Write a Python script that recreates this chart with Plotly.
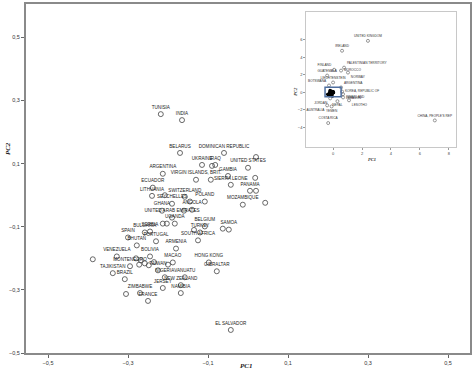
import plotly.graph_objects as go

# ---------------- main chart data (PC1 / PC2 scores) ----------------
NAMES = [
    "TUNISIA", "INDIA", "BELARUS", "DOMINICAN REPUBLIC", "", "UKRAINE", "IRAQ", "",
    "UNITED STATES", "ARGENTINA", "GAMBIA", "VIRGIN ISLANDS, BRIT.", "", "SIERRA LEONE", "",
    "ECUADOR", "LITHUANIA", "SWITZERLAND", "", "SEYCHELLES", "POLAND", "", "PANAMA", "",
    "MOZAMBIQUE", "", "GHANA", "ANGOLA", "", "UNITED ARAB EMIRATES", "UGANDA", "", "",
    "BELGIUM", "SAMOA", "", "SERBIA", "TURKEY", "", "SOUTH AFRICA", "SPAIN", "BULGARIA",
    "PORTUGAL", "ARMENIA", "BHUTAN", "VENEZUELA", "BOLIVIA", "", "MONTENEGRO",
    "", "", "", "", "", "", "MACAO", "", "HONG KONG", "GIBRALTAR", "TAJIKISTAN", "BRAZIL",
    "TAIWAN", "NIGERIA", "VANUATU", "NEW ZEALAND", "JERSEY", "ZIMBABWE", "NAMIBIA",
    "FRANCE", "", "EL SALVADOR",
]
PC1 = [
    -0.218, -0.165, -0.170, -0.060, 0.020, -0.115, -0.082, -0.090,
    0.000, -0.213, -0.050, -0.130, -0.093, -0.043, 0.018,
    -0.238, -0.240, -0.158, -0.208, -0.190, -0.108, -0.145, 0.005, 0.020,
    -0.013, 0.043, -0.215, -0.140, -0.160, -0.190, -0.183, -0.213, -0.203,
    -0.108, -0.048, -0.063, -0.245, -0.120, -0.135, -0.125, -0.300, -0.258,
    -0.230, -0.180, -0.278, -0.328, -0.245, -0.388, -0.295,
    -0.280, -0.268, -0.258, -0.272, -0.248, -0.235, -0.188, -0.200, -0.098, -0.078, -0.338, -0.308,
    -0.225, -0.208, -0.158, -0.168, -0.213, -0.270, -0.168,
    -0.250, -0.305, -0.043,
]
PC2 = [
    0.257, 0.238, 0.134, 0.134, 0.121, 0.096, 0.096, 0.093,
    0.087, 0.068, 0.061, 0.049, 0.049, 0.033, 0.055,
    0.024, -0.002, -0.005, 0.000, -0.027, -0.020, -0.020, 0.014, 0.014,
    -0.030, -0.024, -0.049, -0.046, -0.049, -0.071, -0.090, -0.090, -0.090,
    -0.099, -0.109, -0.106, -0.115, -0.118, -0.110, -0.143, -0.134, -0.118,
    -0.146, -0.169, -0.159, -0.194, -0.194, -0.203, -0.225,
    -0.200, -0.206, -0.216, -0.220, -0.222, -0.212, -0.213, -0.220, -0.213, -0.241, -0.247, -0.266,
    -0.238, -0.260, -0.260, -0.285, -0.294, -0.310, -0.310,
    -0.335, -0.313, -0.427,
]
TICKS = [-0.5, -0.3, -0.1, 0.1, 0.3, 0.5]
X_RANGE = [-0.555, 0.555]
Y_RANGE = [-0.5, 0.606]

# ---------------- inset (full data set) ----------------
INSET_NAMES = [
    "UNITED KINGDOM", "IRELAND", "FINLAND", "PALESTINIAN TERRITORY", "MOROCCO",
    "GUATEMALA", "NORWAY", "LIECHTENSTEIN", "BOTSWANA", "ARGENTINA",
    "KOREA, REPUBLIC OF", "LEBANON", "JORDAN", "SWAZILAND", "NEPAL", "LESOTHO",
    "AUSTRALIA", "YEMEN", "COSTA RICA", "CHINA, PEOPLE'S REP",
]
INSET_PC1 = [2.41, 0.62, 0.07, 0.76, 0.55, -0.41, 1.03, 0.00, -0.28, 0.55,
             0.62, 0.69, -0.20, 0.69, 0.30, 1.10, -0.41, -0.10, -0.34, 7.03]
INSET_PC2 = [5.90, 4.77, 2.60, 2.84, 2.50, 1.93, 2.27, 1.14, 0.80, 0.57,
             0.10, -0.20, -0.68, -0.57, -1.00, -0.90, -1.48, -1.60, -3.50, -3.20]
INSET_TEXTPOS = ["top center", "top center", "top left", "top right", "middle right",
                 "top center", "bottom right", "top center", "top left", "top right",
                 "middle right", "bottom right", "bottom left", "middle right", "bottom center",
                 "bottom right", "bottom left", "bottom center", "top center", "top center"]
INSET_XTICKS = [0, 2, 4, 6, 8]
INSET_YTICKS = [-4, -2, 0, 2, 4, 6]
INSET_XRANGE = [-1.86, 8.48]
INSET_YRANGE = [-6.25, 9.2]

LABEL_FONT = "Liberation Sans Narrow, Arial Narrow, Liberation Sans, Arial"

fig = go.Figure()

fig.add_trace(go.Scatter(
    x=PC1, y=PC2, text=NAMES, mode="markers+text", textposition="top center",
    textfont=dict(family=LABEL_FONT, size=4.6, color="#222"),
    marker=dict(symbol="circle-open", size=5, color="#444", line=dict(width=0.8)),
    cliponaxis=False, hoverinfo="skip", xaxis="x", yaxis="y",
))

# inset: the full cloud (main points become a black blob) + outliers
fig.add_trace(go.Scatter(
    x=PC1, y=PC2, mode="markers",
    marker=dict(symbol="circle", size=3, color="#000"),
    hoverinfo="skip", xaxis="x2", yaxis="y2",
))
fig.add_trace(go.Scatter(
    x=INSET_PC1, y=INSET_PC2, text=INSET_NAMES, mode="markers+text",
    textposition=INSET_TEXTPOS,
    textfont=dict(family=LABEL_FONT, size=3.2, color="#333"),
    marker=dict(symbol="circle-open", size=3, color="#555", line=dict(width=0.6)),
    cliponaxis=False, hoverinfo="skip", xaxis="x2", yaxis="y2",
))

fig.add_shape(type="rect", xref="x2", yref="y2",
              x0=X_RANGE[0], x1=X_RANGE[1], y0=Y_RANGE[0], y1=Y_RANGE[1],
              line=dict(color="#4f6f9f", width=1.5))

axis_common = dict(showgrid=False, zeroline=False, showline=True, mirror=True,
                   ticks="outside", tickformat=".1f")

fig.update_layout(
    width=474, height=370,
    margin=dict(l=26, r=4, t=2, b=17),
    paper_bgcolor="white", plot_bgcolor="white",
    separators=",.",
    showlegend=False,
    xaxis=dict(range=X_RANGE, tickvals=TICKS, domain=[0, 1], anchor="y",
               linecolor="#8a8a8a", linewidth=2, ticklen=3, tickcolor="#666",
               tickfont=dict(family="Liberation Sans, Arial", size=5.5, color="#333"),
               **axis_common),
    yaxis=dict(range=Y_RANGE, tickvals=TICKS, domain=[0, 1], anchor="x",
               linecolor="#8a8a8a", linewidth=2, ticklen=3, tickcolor="#666",
               tickfont=dict(family="Liberation Sans, Arial", size=5.5, color="#333"),
               **axis_common),
    xaxis2=dict(range=INSET_XRANGE, tickvals=INSET_XTICKS, domain=[0.631, 0.968], anchor="y2",
                showgrid=False, zeroline=False, showline=True, mirror=True,
                linecolor="#c8c8c8", linewidth=1, ticks="outside", ticklen=2,
                tickcolor="#999", tickfont=dict(family="Liberation Sans, Arial", size=4, color="#444")),
    yaxis2=dict(range=INSET_YRANGE, tickvals=INSET_YTICKS, domain=[0.590, 0.977], anchor="x2",
                showgrid=False, zeroline=False, showline=True, mirror=True,
                linecolor="#c8c8c8", linewidth=1, ticks="outside", ticklen=2,
                tickcolor="#999", tickfont=dict(family="Liberation Sans, Arial", size=4, color="#444")),
    annotations=[
        dict(text="<b><i>PC1</i></b>", x=0.495, y=-0.036, xref="paper", yref="paper",
             showarrow=False, xanchor="center", yanchor="middle",
             font=dict(family="Liberation Serif, Times New Roman", size=7, color="#222")),
        dict(text="<b><i>PC2</i></b>", x=-0.04, y=0.585, xref="paper", yref="paper",
             showarrow=False, textangle=-90, xanchor="center", yanchor="middle",
             font=dict(family="Liberation Serif, Times New Roman", size=7, color="#222")),
        dict(text="<b><i>PC1</i></b>", x=0.78, y=0.555, xref="paper", yref="paper",
             showarrow=False, xanchor="center", yanchor="middle",
             font=dict(family="Liberation Serif, Times New Roman", size=4.5, color="#333")),
        dict(text="<b><i>PC2</i></b>", x=0.607, y=0.75, xref="paper", yref="paper",
             showarrow=False, textangle=-90, xanchor="center", yanchor="middle",
             font=dict(family="Liberation Serif, Times New Roman", size=4.5, color="#333")),
    ],
)

fig.write_html("out.html", config={"displayModeBar": False},
               post_script="document.body.style.margin='0';")
